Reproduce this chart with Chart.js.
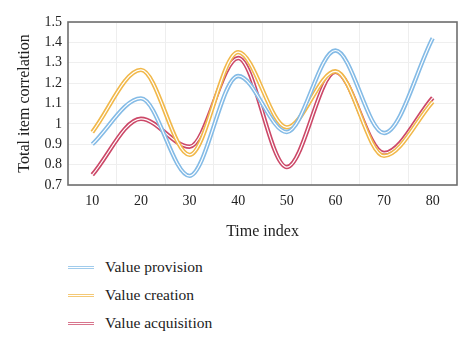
<!DOCTYPE html>
<html>
<head>
<meta charset="utf-8">
<script src="https://cdn.jsdelivr.net/npm/chart.js@4.4.1/dist/chart.umd.min.js"></script>
<style>
  body { margin: 0; background: #fff; }
  #wrap { position: relative; width: 474px; height: 348px; font-family: "Liberation Serif", "DejaVu Serif", serif; color: #222; }
  #legend { position: absolute; left: 68px; top: 253px; }
  .item { height: 28px; display: flex; align-items: center; font-size: 15.5px; }
  .swatch { width: 26px; height: 1px; background: #fff; margin-right: 11px; opacity: 0.75; }
</style>
</head>
<body>
<div id="wrap">
  <canvas id="myChart" width="474" height="245"></canvas>
  <div id="legend"></div>
</div>
<script>
var timeIndex = [10, 20, 30, 40, 50, 60, 70, 80];
var yTicks = [0.7, 0.8, 0.9, 1, 1.1, 1.2, 1.3, 1.4, 1.5];
var seriesNames = ['Value provision', 'Value creation', 'Value acquisition'];
var provision = [0.90, 1.125, 0.745, 1.235, 0.96, 1.36, 0.955, 1.42];
var creation = [0.96, 1.265, 0.848, 1.352, 0.983, 1.258, 0.843, 1.108];
var acquisition = [0.75, 1.025, 0.888, 1.323, 0.788, 1.255, 0.857, 1.128];
var colors = ['#84bbe6', '#f1b84a', '#cc4868'];

var values = [provision, creation, acquisition];

function pts(arr) {
  return arr.map(function(v, i) { return {x: timeIndex[i], y: v}; });
}

// each series = wide coloured stroke + thin white stroke on top
var datasets = [];
values.forEach(function(arr, i) {
  datasets.push({
    label: seriesNames[i] + ' inner', data: pts(arr), borderColor: '#ffffff',
    borderWidth: 1.2, pointRadius: 0, cubicInterpolationMode: 'monotone'
  });
  datasets.push({
    label: seriesNames[i], data: pts(arr), borderColor: colors[i],
    borderWidth: 4.4, pointRadius: 0, cubicInterpolationMode: 'monotone'
  });
});

var frame = {
  id: 'frame',
  afterDraw: function(chart) {
    var a = chart.chartArea, c = chart.ctx;
    c.save();
    c.strokeStyle = '#6e6e6e';
    c.lineWidth = 1.6;
    c.strokeRect(a.left, a.top, a.right - a.left, a.bottom - a.top);
    c.restore();
  }
};

var font = { family: '"Liberation Serif", "DejaVu Serif", serif', size: 14 };
var titleFont = { family: font.family, size: 16 };

var ctx = document.getElementById('myChart');
var myChart = new Chart(ctx, {
  type: 'line',
  data: { datasets: datasets },
  options: {
    responsive: false,
    animation: false,
    layout: { padding: { top: 22, right: 17, left: 0, bottom: 0 } },
    plugins: { legend: { display: false }, tooltip: { enabled: false } },
    scales: {
      x: {
        type: 'linear', min: 5, max: 85,
        afterFit: function(s) { s.height = 60; },
        afterBuildTicks: function(s) {
          var t = [];
          for (var v = 5; v <= 85; v += 5) t.push({value: v});
          s.ticks = t;
        },
        ticks: {
          autoSkip: false, maxRotation: 0, padding: 8, color: '#222', font: font,
          callback: function(v) { return timeIndex.indexOf(v) >= 0 ? v : ''; }
        },
        grid: {
          drawTicks: false,
          color: function(c) { return (c.tick && c.tick.value % 10 === 5 && c.tick.value !== 5 && c.tick.value !== 85) ? '#eeeeee' : 'rgba(0,0,0,0)'; }
        },
        border: { display: false },
        title: { display: true, text: 'Time index', color: '#222', font: titleFont, padding: { top: 10 } }
      },
      y: {
        min: 0.7, max: 1.5,
        afterFit: function(s) { s.width = 68; },
        afterBuildTicks: function(s) {
          s.ticks = yTicks.map(function(v) { return {value: v}; });
        },
        ticks: { padding: 6, color: '#222', font: font, callback: function(v) { return String(v); } },
        grid: { drawTicks: false, color: '#efefef' },
        border: { display: false },
        title: { display: true, text: 'Total item correlation', color: '#222', font: titleFont, padding: { top: 15 } }
      }
    }
  },
  plugins: [frame]
});

var legend = document.getElementById('legend');
seriesNames.forEach(function(name, i) {
  var row = document.createElement('div');
  row.className = 'item';
  var sw = document.createElement('span');
  sw.className = 'swatch';
  sw.style.borderTop = '1.5px solid ' + colors[i];
  sw.style.borderBottom = '1.5px solid ' + colors[i];
  var txt = document.createElement('span');
  txt.textContent = name;
  row.appendChild(sw);
  row.appendChild(txt);
  legend.appendChild(row);
});
</script>
</body>
</html>
